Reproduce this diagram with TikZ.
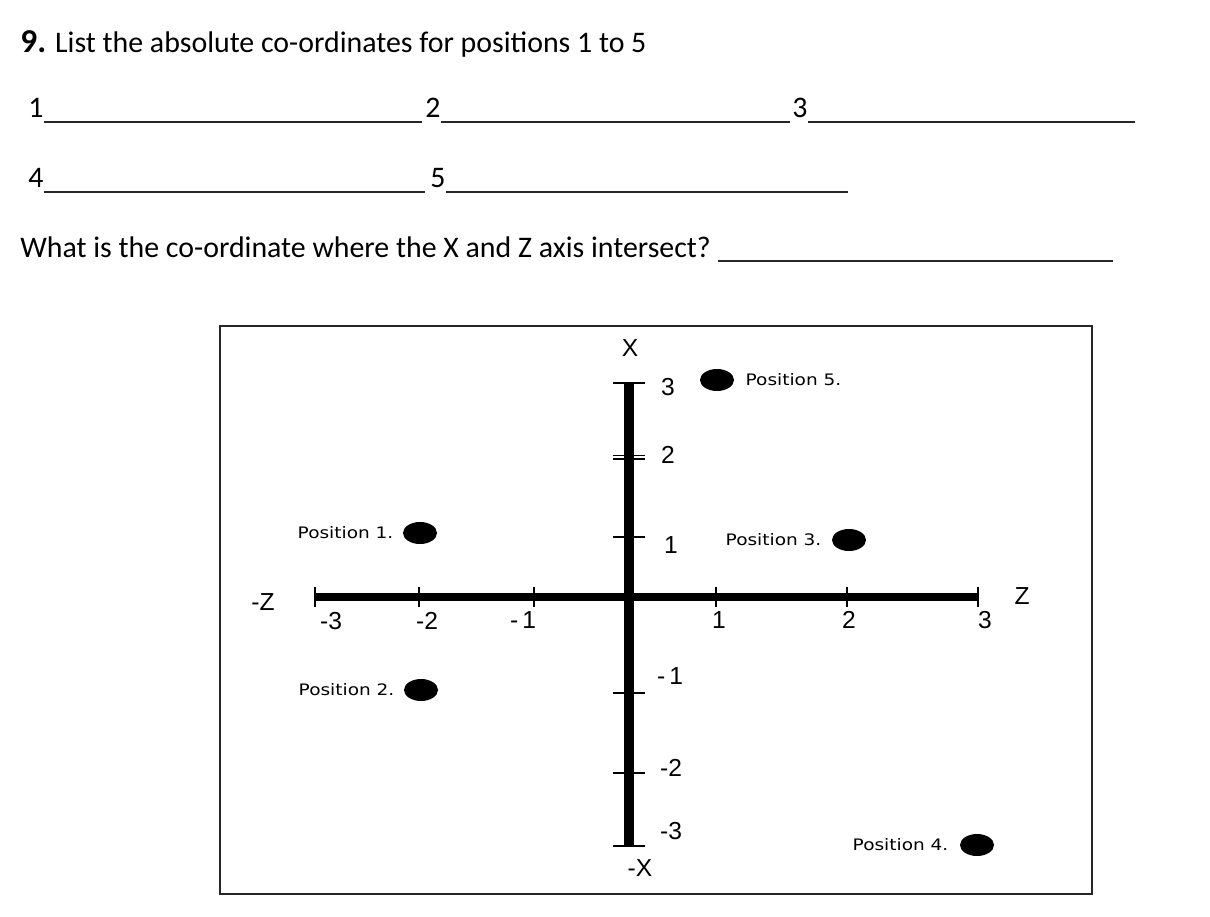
\documentclass[tikz,border=0pt]{standalone}
\usepackage{fontspec}
\setmainfont{Carlito}
\newfontfamily\plotfont{Liberation Sans}
\newfontfamily\markfont[FakeStretch=1.17]{DejaVu Sans}
\usetikzlibrary{positioning,shapes.geometric}

\tikzset{
  answer/.style={anchor=base west, inner sep=0pt, font=\fontsize{17}{20}\selectfont},
  blank/.style={line width=1.1pt, draw=black!85},
  axisline/.style={line width=5.4pt},
  tickline/.style={line width=1.1pt},
  numlabel/.style={inner sep=0pt, font=\plotfont\fontsize{14}{16}\selectfont},
  dot/.style={ellipse, fill=black, inner sep=0pt, minimum width=0.68cm, minimum height=0.44cm},
  poslabel/.style={inner sep=0pt, font=\markfont\fontsize{9}{10}\selectfont}
}

\begin{document}
\begin{tikzpicture}[x=0.02cm, y=-0.02cm]
\useasboundingbox (0,0) rectangle (1210,916);

% question text
\node [answer] (title) at (20,52) {{\fontsize{19}{20}\selectfont\textbf{9.}} List the absolute co-ordinates for positions 1 to 5};
\node [answer] (n1) at (28,117) {1};
\coordinate (e1) at (422,122);
\node [answer] (n2) at (425,117) {2};
\coordinate (e2) at (790,122);
\node [answer] (n3) at (792,117) {3};
\coordinate (e3) at (1135,122);
\node [answer] (n4) at (28,187) {4};
\coordinate (e4) at (425,192);
\node [answer] (n5) at (430,187) {5};
\coordinate (e5) at (848,192);
\node [answer] (quest) at (20,257) {What is the co-ordinate where the X and Z axis intersect?};
\coordinate (e6) at (1113,261);
\draw [blank] (n1.east |- e1) -- (e1);
\draw [blank] (n2.east |- e2) -- (e2);
\draw [blank] (n3.east |- e3) -- (e3);
\draw [blank] (n4.east |- e4) -- (e4);
\draw [blank] (n5.east |- e5) -- (e5);
\draw [blank] ([xshift=0.14cm]quest.east |- e6) -- (e6);

% frame
\draw [line width=1.2pt, draw=black!85] (220,326) rectangle (1092,894);

% axes
\coordinate (xtop) at (629,383);
\coordinate (xbot) at (629,846);
\coordinate (zleft) at (315,597);
\coordinate (zright) at (978,597);
\draw [axisline] (xtop) -- (xbot);
\draw [axisline, line width=4.6pt] (zleft) -- (zright);
\foreach \y in {383,455.5,459,537,693,773,846}
  \draw [tickline] (613,\y) -- (645,\y);
\foreach \x in {315,419,534,716,847,978}
  \draw [tickline] (\x,587) -- (\x,607);

\node [numlabel] (xlab) at (630,348) {X};
\node [numlabel] (mxlab) at (640,868) {-X};
\node [numlabel] (mzlab) at (263,602) {-Z};
\node [numlabel] (zlab) at (1022,596) {Z};

\node [numlabel] at (668,387) {3};
\node [numlabel] at (668,455) {2};
\node [numlabel] at (671,545) {1};
\node [numlabel] at (670,676) {-\,1};
\node [numlabel] at (671,768) {-2};
\node [numlabel] at (671,831) {-3};

\node [numlabel] at (331,621) {-3};
\node [numlabel] at (427,621) {-2};
\node [numlabel] at (523,620) {-\,1};
\node [numlabel] at (719,620) {1};
\node [numlabel] at (849,620) {2};
\node [numlabel] at (985,620) {3};

% positions
\node [dot] (p1) at (420,533) {};
\node [dot] (p2) at (421,690) {};
\node [dot] (p3) at (849,540) {};
\node [dot] (p4) at (977,845) {};
\node [dot] (p5) at (717,380) {};
\node [poslabel, left=0.18cm of p1] {Position 1.};
\node [poslabel, left=0.18cm of p2] {Position 2.};
\node [poslabel, left=0.2cm of p3] {Position 3.};
\node [poslabel, left=0.22cm of p4] {Position 4.};
\node [poslabel, right=0.22cm of p5] {Position 5.};
\end{tikzpicture}
\end{document}
